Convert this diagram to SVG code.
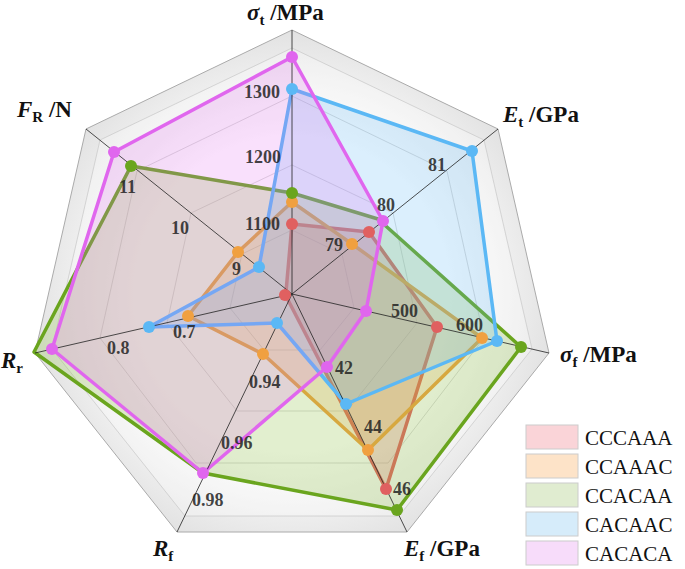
<svg xmlns="http://www.w3.org/2000/svg" width="685" height="569" viewBox="0 0 685 569">
<style>
.ax{font-family:"Liberation Serif",serif;font-weight:bold;font-size:23px;fill:#111}
.tk{font-family:"Liberation Serif",serif;font-weight:bold;font-size:18px;fill:#222;fill-opacity:0.85}
.lg{font-family:"Liberation Serif",serif;font-size:21px;fill:#111}
.grid{fill:none;stroke:#999;stroke-width:0.6;stroke-opacity:0.6}
.spoke{stroke:#222;stroke-width:0.8}
.s{stroke-width:3.5;stroke-linejoin:round}
</style>
<defs>
<radialGradient id="bg" cx="292" cy="294" r="264" gradientUnits="userSpaceOnUse">
<stop offset="0.6" stop-color="#fff"/><stop offset="1" stop-color="#e2e2e2"/>
</radialGradient>
</defs>
<g id="frame">
<polygon points="292,30 498,129 549,353 407,532 177,532 35,353 86,129" fill="url(#bg)" stroke="#aaa" stroke-width="1"/>
<polygon points="292,48 484,140 532,349 399,516 185,516 52,349 100,140" fill="#fff" fill-opacity="0.3" stroke="#ccc" stroke-width="0.8"/>
<polygon class="grid" points="292,96 447,171 484,338 388,463 196,463 100,338 137,171"/>
<polygon class="grid" points="292,165 393,213 417,323 347,411 237,411 167,323 191,213"/>
<polygon class="grid" points="292,230 342,254 354,308 320,350 264,350 230,308 242,254"/>
</g>
<g id="CCCAAA"><polygon class="s" points="292,224 369,232 437,327 386,489 288,300 284,296 286,292" fill="#e06060" fill-opacity="0.25" stroke="#e06060"/></g>
<g id="CCAAAC"><polygon class="s" points="292,202 352,244 482,338 368,450 263,354 188,316 238,252" fill="#f0a040" fill-opacity="0.22" stroke="#f0a040"/></g>
<g id="CCACAA"><polygon class="s" points="292,193 378,219 521,347 397,510 203,473 34,352 131,166" fill="#8cc040" fill-opacity="0.25" stroke="#6aa51e"/></g>
<g id="CACAAC"><polygon class="s" points="292,89 472,151 497,341 346,404 277,323 149,327 259,267" fill="#5bb8f5" fill-opacity="0.22" stroke="#5bb8f5"/></g>
<g id="CACACA"><polygon class="s" points="292,57 383,221 366,311 327,367 203,473 52,349 114,152" fill="#e066ee" fill-opacity="0.2" stroke="#e066ee"/></g>
<g id="connectors">
<line class="spoke" x1="292" y1="294" x2="292" y2="30"/>
<line class="spoke" x1="292" y1="294" x2="498" y2="129"/>
<line class="spoke" x1="292" y1="294" x2="549" y2="353"/>
<line class="spoke" x1="292" y1="294" x2="407" y2="532"/>
<line class="spoke" x1="292" y1="294" x2="177" y2="532"/>
<line class="spoke" x1="292" y1="294" x2="35" y2="353"/>
<line class="spoke" x1="292" y1="294" x2="86" y2="129"/>
</g>
<g id="dots">
<g fill="#e06060"><circle cx="292" cy="224" r="6"/><circle cx="369" cy="232" r="6"/><circle cx="437" cy="327" r="6"/><circle cx="386" cy="489" r="6"/><circle cx="285" cy="295" r="6"/></g>
<g fill="#f0a040"><circle cx="292" cy="202" r="6"/><circle cx="352" cy="244" r="6"/><circle cx="482" cy="338" r="6"/><circle cx="368" cy="450" r="6"/><circle cx="263" cy="354" r="6"/><circle cx="188" cy="316" r="6"/><circle cx="238" cy="252" r="6"/></g>
<g fill="#6aa51e"><circle cx="292" cy="193" r="6"/><circle cx="521" cy="347" r="6"/><circle cx="397" cy="510" r="6"/><circle cx="131" cy="166" r="6"/></g>
<g fill="#5bb8f5"><circle cx="292" cy="89" r="6"/><circle cx="472" cy="151" r="6"/><circle cx="497" cy="341" r="6"/><circle cx="346" cy="404" r="6"/><circle cx="277" cy="323" r="6"/><circle cx="149" cy="327" r="6"/><circle cx="259" cy="267" r="6"/></g>
<g fill="#e066ee"><circle cx="292" cy="57" r="6"/><circle cx="383" cy="221" r="6"/><circle cx="366" cy="311" r="6"/><circle cx="327" cy="367" r="6"/><circle cx="203" cy="473" r="6"/><circle cx="52" cy="349" r="6"/><circle cx="114" cy="152" r="6"/></g>
</g>
<g id="ticks" class="tk">
<text x="244" y="98">1300</text><text x="245" y="163">1200</text><text x="245" y="230">1100</text>
<text x="119" y="193">11</text><text x="171" y="234">10</text><text x="232" y="275">9</text>
<text x="107" y="354">0.8</text><text x="173" y="338">0.7</text><text x="249" y="388">0.94</text><text x="221" y="449">0.96</text><text x="192" y="506">0.98</text>
<text x="335" y="374">42</text><text x="364" y="433">44</text><text x="393" y="495">46</text>
<text x="391" y="317">500</text><text x="456" y="331">600</text>
<text x="325" y="251">79</text><text x="377" y="211">80</text><text x="428" y="171">81</text>
</g>
<g id="axislabels" class="ax">
<text x="247" y="20"><tspan font-style="italic">σ</tspan><tspan font-size="15" dy="5">t</tspan><tspan dy="-5"> /MPa</tspan></text>
<text x="503" y="122"><tspan font-style="italic">E</tspan><tspan font-size="15" dy="5">t</tspan><tspan dy="-5"> /GPa</tspan></text>
<text x="560" y="362"><tspan font-style="italic">σ</tspan><tspan font-size="15" dy="5">f</tspan><tspan dy="-5"> /MPa</tspan></text>
<text x="404" y="556"><tspan font-style="italic">E</tspan><tspan font-size="15" dy="5">f</tspan><tspan dy="-5"> /GPa</tspan></text>
<text x="153" y="556"><tspan font-style="italic">R</tspan><tspan font-size="15" dy="5">f</tspan></text>
<text x="1" y="368"><tspan font-style="italic">R</tspan><tspan font-size="15" dy="5">r</tspan></text>
<text x="17" y="117"><tspan font-style="italic">F</tspan><tspan font-size="15" dy="5">R</tspan><tspan dy="-5"> /N</tspan></text>
</g>
<g id="legend">
<rect x="526" y="425" width="52" height="24" fill="#fad4d8" stroke="#ccc"/><text class="lg" x="585" y="445">CCCAAA</text>
<rect x="526" y="454" width="52" height="24" fill="#fde3c8" stroke="#ccc"/><text class="lg" x="585" y="474">CCAAAC</text>
<rect x="526" y="483" width="52" height="24" fill="#e0ecd0" stroke="#ccc"/><text class="lg" x="585" y="503">CCACAA</text>
<rect x="526" y="512" width="52" height="24" fill="#d6ecfa" stroke="#ccc"/><text class="lg" x="585" y="532">CACAAC</text>
<rect x="526" y="541" width="52" height="24" fill="#f7dcfa" stroke="#ccc"/><text class="lg" x="585" y="561">CACACA</text>
</g>
</svg>
